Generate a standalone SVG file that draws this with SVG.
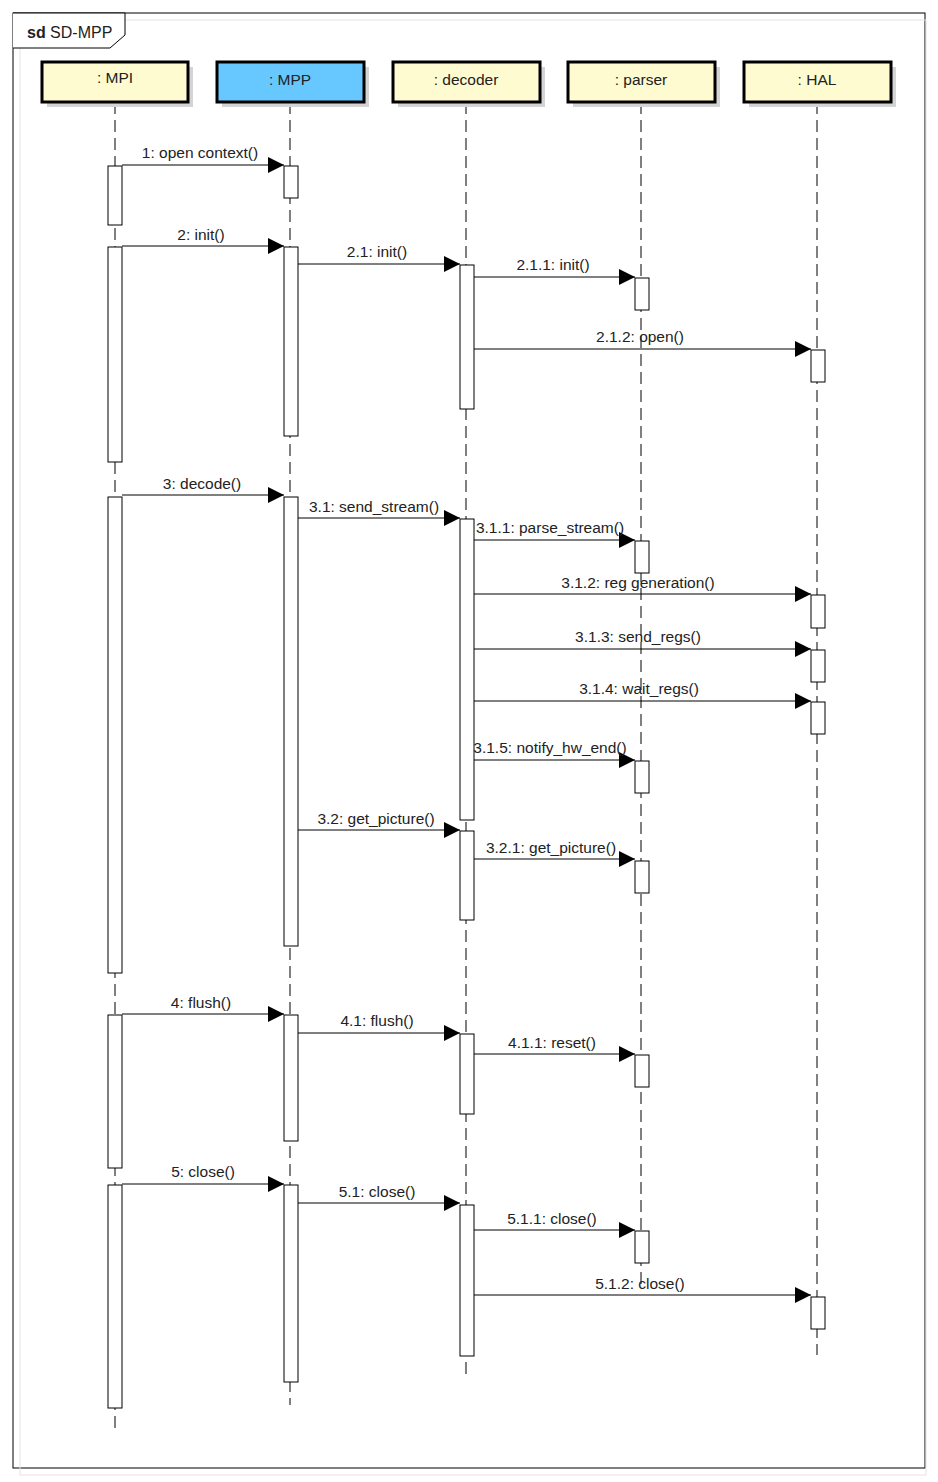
<svg xmlns="http://www.w3.org/2000/svg" width="938" height="1482" viewBox="0 0 938 1482">
<style>
text{font-family:"Liberation Sans",Arial,sans-serif;font-size:15.5px;fill:#222}
.lbl{text-anchor:middle}
.hd{fill:#fffbd0;stroke:#000;stroke-width:3}
.sh{fill:#d4d4d4}
.ll{stroke:#000;stroke-width:1;stroke-dasharray:12,6}
.act{fill:#fff;stroke:#000;stroke-width:1}
.msg{stroke:#000;stroke-width:1;fill:none;marker-end:url(#ah)}
</style>
<defs>
<marker id="ah" markerWidth="16" markerHeight="16" refX="16" refY="8" orient="auto" markerUnits="userSpaceOnUse"><path d="M0,0 L16,8 L0,16 Z" fill="#000"/></marker>
</defs>
<rect x="0" y="0" width="938" height="1482" fill="#fff"/>
<rect x="13" y="13" width="912" height="1455" fill="#fff" stroke="#000"/>
<rect x="20" y="20" width="906" height="1455" fill="none" stroke="#e4e4e4"/>
<path d="M13,13 H125 V35 L110,48 H13" fill="#fff" stroke="#000"/>
<text x="27" y="38" style="font-size:16px"><tspan font-weight="bold">sd</tspan> SD-MPP</text>
<g id="lifelines">
<line class="ll" x1="115" y1="102" x2="115" y2="1432"/>
<line class="ll" x1="290" y1="102" x2="290" y2="1405"/>
<line class="ll" x1="466" y1="102" x2="466" y2="1380"/>
<line class="ll" x1="641" y1="102" x2="641" y2="1290"/>
<line class="ll" x1="817" y1="102" x2="817" y2="1355"/>
</g>
<g id="MPI"><rect class="sh" x="47" y="67" width="146" height="40"/><rect class="hd" x="42" y="62" width="146" height="40"/><text class="lbl" x="115" y="83">: MPI</text></g>
<g id="MPP"><rect class="sh" x="222" y="67" width="147" height="40"/><rect class="hd" x="217" y="62" width="147" height="40" style="fill:#66c8ff"/><text class="lbl" x="290" y="85">: MPP</text></g>
<g id="decoder"><rect class="sh" x="398" y="67" width="147" height="40"/><rect class="hd" x="393" y="62" width="147" height="40"/><text class="lbl" x="466" y="85">: decoder</text></g>
<g id="parser"><rect class="sh" x="573" y="67" width="147" height="40"/><rect class="hd" x="568" y="62" width="147" height="40"/><text class="lbl" x="641" y="85">: parser</text></g>
<g id="HAL"><rect class="sh" x="749" y="67" width="147" height="40"/><rect class="hd" x="744" y="62" width="147" height="40"/><text class="lbl" x="817" y="85">: HAL</text></g>
<g id="activations">
<rect class="act" x="108" y="166" width="14" height="59"/>
<rect class="act" x="108" y="247" width="14" height="215"/>
<rect class="act" x="108" y="497" width="14" height="476"/>
<rect class="act" x="108" y="1015" width="14" height="153"/>
<rect class="act" x="108" y="1185" width="14" height="223"/>
<rect class="act" x="284" y="166" width="14" height="32"/>
<rect class="act" x="284" y="247" width="14" height="189"/>
<rect class="act" x="284" y="497" width="14" height="449"/>
<rect class="act" x="284" y="1015" width="14" height="126"/>
<rect class="act" x="284" y="1185" width="14" height="197"/>
<rect class="act" x="460" y="265" width="14" height="144"/>
<rect class="act" x="460" y="519" width="14" height="301"/>
<rect class="act" x="460" y="831" width="14" height="89"/>
<rect class="act" x="460" y="1034" width="14" height="80"/>
<rect class="act" x="460" y="1205" width="14" height="151"/>
<rect class="act" x="635" y="278" width="14" height="32"/>
<rect class="act" x="635" y="541" width="14" height="32"/>
<rect class="act" x="635" y="761" width="14" height="32"/>
<rect class="act" x="635" y="861" width="14" height="32"/>
<rect class="act" x="635" y="1055" width="14" height="32"/>
<rect class="act" x="635" y="1231" width="14" height="32"/>
<rect class="act" x="811" y="350" width="14" height="32"/>
<rect class="act" x="811" y="595" width="14" height="33"/>
<rect class="act" x="811" y="650" width="14" height="32"/>
<rect class="act" x="811" y="702" width="14" height="32"/>
<rect class="act" x="811" y="1297" width="14" height="32"/>
</g>
<g id="connectors">
<line class="msg" x1="122" y1="165" x2="284" y2="165"/><text class="lbl" x="200" y="158">1: open context()</text>
<line class="msg" x1="122" y1="246" x2="284" y2="246"/><text class="lbl" x="201" y="240">2: init()</text>
<line class="msg" x1="298" y1="264" x2="460" y2="264"/><text class="lbl" x="377" y="257">2.1: init()</text>
<line class="msg" x1="474" y1="277" x2="635" y2="277"/><text class="lbl" x="553" y="270">2.1.1: init()</text>
<line class="msg" x1="474" y1="349" x2="811" y2="349"/><text class="lbl" x="640" y="342">2.1.2: open()</text>
<line class="msg" x1="122" y1="495" x2="284" y2="495"/><text class="lbl" x="202" y="489">3: decode()</text>
<line class="msg" x1="298" y1="518" x2="460" y2="518"/><text class="lbl" x="374" y="512">3.1: send_stream()</text>
<line class="msg" x1="474" y1="540" x2="635" y2="540"/><text class="lbl" x="550" y="533">3.1.1: parse_stream()</text>
<line class="msg" x1="474" y1="594" x2="811" y2="594"/><text class="lbl" x="638" y="588">3.1.2: reg generation()</text>
<line class="msg" x1="474" y1="649" x2="811" y2="649"/><text class="lbl" x="638" y="642">3.1.3: send_regs()</text>
<line class="msg" x1="474" y1="701" x2="811" y2="701"/><text class="lbl" x="639" y="694">3.1.4: wait_regs()</text>
<line class="msg" x1="474" y1="760" x2="635" y2="760"/><text class="lbl" x="550" y="753">3.1.5: notify_hw_end()</text>
<line class="msg" x1="298" y1="830" x2="460" y2="830"/><text class="lbl" x="376" y="824">3.2: get_picture()</text>
<line class="msg" x1="474" y1="859" x2="635" y2="859"/><text class="lbl" x="551" y="853">3.2.1: get_picture()</text>
<line class="msg" x1="122" y1="1014" x2="284" y2="1014"/><text class="lbl" x="201" y="1008">4: flush()</text>
<line class="msg" x1="298" y1="1033" x2="460" y2="1033"/><text class="lbl" x="377" y="1026">4.1: flush()</text>
<line class="msg" x1="474" y1="1054" x2="635" y2="1054"/><text class="lbl" x="552" y="1048">4.1.1: reset()</text>
<line class="msg" x1="122" y1="1184" x2="284" y2="1184"/><text class="lbl" x="203" y="1177">5: close()</text>
<line class="msg" x1="298" y1="1203" x2="460" y2="1203"/><text class="lbl" x="377" y="1197">5.1: close()</text>
<line class="msg" x1="474" y1="1230" x2="635" y2="1230"/><text class="lbl" x="552" y="1224">5.1.1: close()</text>
<line class="msg" x1="474" y1="1295" x2="811" y2="1295"/><text class="lbl" x="640" y="1289">5.1.2: close()</text>
</g>
</svg>
